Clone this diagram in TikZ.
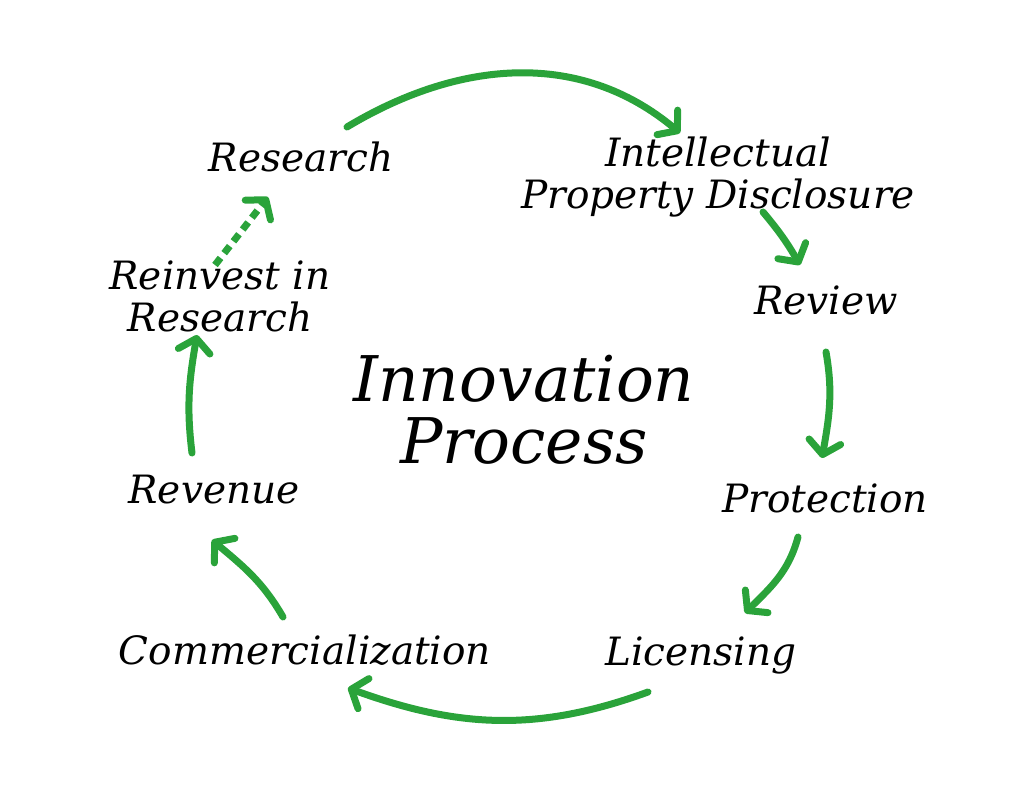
\documentclass[tikz,border=0pt]{standalone}
\usepackage{fontspec}
\setmainfont{DejaVu Serif}
\usetikzlibrary{arrows.meta}
\definecolor{cyclegreen}{RGB}{42,163,58}
\newcommand{\labelfont}{\fontsize{39}{42}\selectfont\itshape}
\newcommand{\titlefont}{\fontsize{63}{62}\selectfont\itshape}

\begin{document}
\begin{tikzpicture}[x=1pt,y=1pt,>={Straight Barb[round,length=13pt,width=32pt]},
  line width=7pt,line cap=round,
  label node/.style={font=\labelfont,align=center,inner sep=0pt},
  title node/.style={font=\titlefont,align=center,inner sep=0pt},
  flow/.style={->,draw=cyclegreen},
  dashflow/.style={flow,line cap=butt,dash pattern=on 9pt off 6pt}]
\useasboundingbox (0,0) rectangle (1024,-808);

\node[title node](title) at (524,-410) {Innovation\\Process};

\node[label node](research) at (301,-157) {Research};
\node[label node](ipd) at (718,-177) {Intellectual\\Property Disclosure};
\node[label node](review) at (826,-300) {Review};
\node[label node](protection) at (825,-498) {Protection};
\node[label node](licensing) at (701,-655) {Licensing};
\node[label node](commerc) at (305,-650) {Commercialization};
\node[label node](revenue) at (214,-490) {Revenue};
\node[label node](reinvest) at (220,-296) {Reinvest in\\Research};

\path
([shift={(46,30)}]research.center) edge[flow,out=31,in=140] ([shift={(-38,44)}]ipd.center)
([shift={(45,-35)}]ipd.center) edge[flow,out=-50,in=120] ([shift={(-26,35)}]review.center)
([shift={(0,-52)}]review.center) edge[flow,out=-80,in=80] ([shift={(-3,40)}]protection.center)
([shift={(-27,-39)}]protection.center) edge[flow,out=-105,in=45] ([shift={(44,42)}]licensing.center)
([shift={(-53,-37)}]licensing.center) edge[flow,out=200,in=-20] ([shift={(43,-38)}]commerc.center)
([shift={(-22,33)}]commerc.center) edge[flow,out=120,in=-40] ([shift={(-2,-50)}]revenue.center)
([shift={(-22,37)}]revenue.center) edge[flow,out=97,in=-100] ([shift={(-23,-39)}]reinvest.center)
([shift={(-5,31)}]reinvest.center) edge[dashflow] ([shift={(-33,-40)}]research.center);
\end{tikzpicture}
\end{document}
